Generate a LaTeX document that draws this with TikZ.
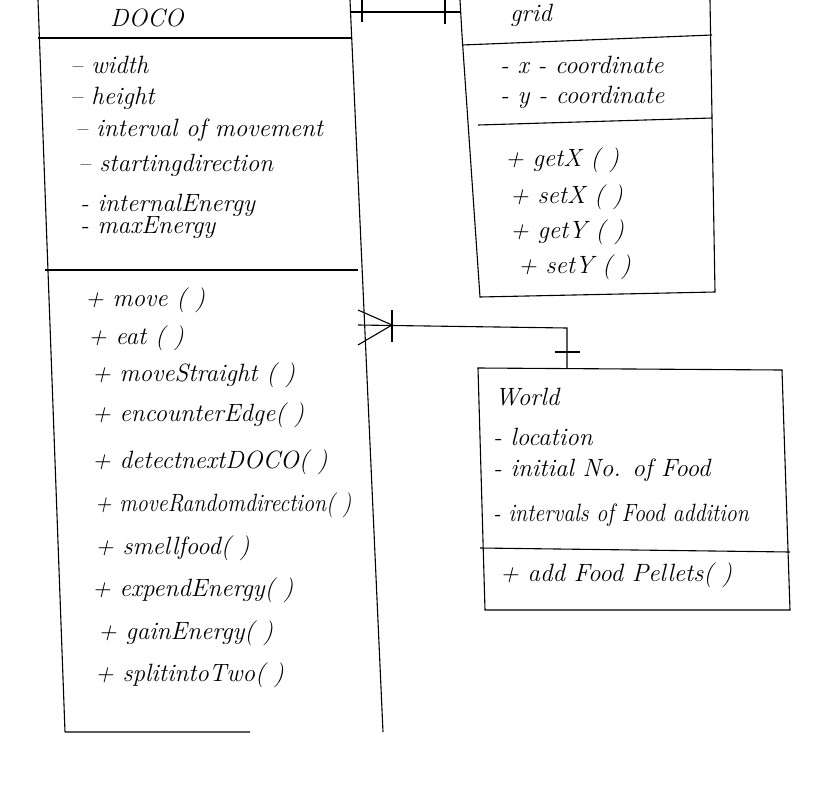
\documentclass[tikz,border=0pt]{standalone}
\begin{document}
\begin{tikzpicture}[x=1pt,y=-1pt,
  box/.style={draw,line width=1.2pt},
  ln/.style={line width=1.1pt},
  txt/.style={anchor=west,font=\fontsize{25}{27}\selectfont\itshape,inner sep=0pt},
  small/.style={xscale=0.88,transform shape}]
\useasboundingbox[fill=white] (0,0) rectangle (828,793);
% DOCO
\draw[ln] (38,0) -- (65,732) (350,0) -- (383,732) (65,732) -- (250,732);
\draw[ln] (38,38) -- (352,38) (45,270) -- (358,270);
\node[txt] (dt) at (110,18) {DOCO};
\node[txt] (d1) at (70,65) {-- width};
\node[txt] (d2) at (70,98) {-- height};
\node[txt] (d3) at (75,130) {-- interval of movement};
\node[txt] (d4) at (78,165) {-- startingdirection};
\node[txt] (d5) at (80,205) {- internalEnergy};
\node[txt] (d6) at (80,228) {- maxEnergy};
\node[txt] (m1) at (85,300) {+ move ( )};
\node[txt] (m2) at (88,338) {+ eat ( )};
\node[txt] (m3) at (92,375) {+ moveStraight ( )};
\node[txt] (m4) at (92,415) {+ encounterEdge( )};
\node[txt] (m5) at (92,462) {+ detectnextDOCO( )};
\node[txt,small] (m6) at (95,505) {+ moveRandomdirection( )};
\node[txt] (m7) at (95,548) {+ smellfood( )};
\node[txt] (m8) at (92,590) {+ expendEnergy( )};
\node[txt] (m9) at (98,633) {+ gainEnergy( )};
\node[txt] (m10) at (95,675) {+ splitintoTwo( )};
% grid
\draw[ln] (460,0) -- (462,35) (462,35) -- (480,297) -- (715,292) -- (710,0);
\draw[ln] (462,45) -- (712,35) (478,125) -- (712,118);
\node[txt] (gt) at (510,15) {grid};
\node[txt] (g1) at (500,65) {- x - coordinate};
\node[txt] (g2) at (500,97) {- y - coordinate};
\node[txt] (g3) at (505,160) {+ getX ( )};
\node[txt] (g4) at (510,197) {+ setX ( )};
\node[txt] (g5) at (510,232) {+ getY ( )};
\node[txt] (g6) at (518,267) {+ setY ( )};
% DOCO-grid connector
\coordinate (a1) at (350,12);
\coordinate (a2) at (460,12);
\draw[ln] (a1) -- (a2) (362,0) -- (362,22) (445,0) -- (445,24);
% World
\draw[ln] (478,368) -- (782,370) -- (790,610) -- (485,610) -- cycle;
\draw[ln] (480,548) -- (790,552);
\node[txt] (wt) at (495,397) {World};
\node[txt] (w1) at (493,437) {- location};
\node[txt] (w2) at (493,470) {- initial No. of Food};
\node[txt,small] (w3) at (493,515) {- intervals of Food addition};
\node[txt] (w4) at (500,575) {+ add Food Pellets( )};
% DOCO-World connector
\coordinate (c1) at (358,325);
\coordinate (c2) at (567,328);
\coordinate (c3) at (567,368);
\draw[ln] (c1) -- (c2) -- (c3);
\draw[ln] (358,310) -- (392,325) -- (358,345);
\draw[ln] (392,310) -- (392,342) (555,352) -- (580,352);
\end{tikzpicture}
\end{document}
